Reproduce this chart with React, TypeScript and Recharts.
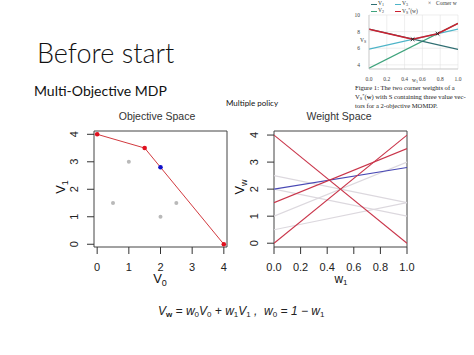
import React from "react";
import {
  ComposedChart,
  LineChart,
  Line,
  Scatter,
  XAxis,
  YAxis,
  ReferenceArea,
  CartesianGrid,
} from "recharts";

// objective space: value of each policy (V0, V1)
const frontV0 = [0, 1.5, 4];
const frontV1 = [4, 3.5, 0];
const pickedV0 = [2];
const pickedV1 = [2.8];
const otherV0 = [1, 0.5, 2, 2.5];
const otherV1 = [3, 1.5, 1, 1.5];
const objTicks = [0, 1, 2, 3, 4];

// weight space: w1 at both ends of the axis
const weightEnds = [0, 1];
const weightTicks = [0, 0.2, 0.4, 0.6, 0.8, 1];
const vwTicks = [0, 1, 2, 3, 4];

// small paper figure, top right
const figW = [0, 1];
const figV1 = [8.3, 5.85];
const figV2 = [3.6, 9.0];
const figV3 = [5.9, 8.3];
const optW = [0, 0.49, 0.77, 1];
const optV = [8.3, 7.08, 7.75, 9.0];
const cornerW = [0.49, 0.77];
const cornerV = [7.08, 7.75];
const figXTicks = [0, 0.2, 0.4, 0.6, 0.8, 1];
const figYTicks = [4, 6, 8, 10];

const pts = (xs: number[], ys: number[]) => xs.map((x, i) => ({ x, y: ys[i] }));

// V_w over w1 is a straight line from V0 (w1=0) to V1 (w1=1)
const wLines = (v0: number[], v1: number[]) =>
  v0.map((a, i) => weightEnds.map((w) => ({ x: w, y: w === 0 ? a : v1[i] })));

const R_FONT = "'Liberation Sans', Arial, sans-serif";
const SERIF = "'Liberation Serif', 'Times New Roman', serif";
const SLIDE = "Lato, 'Open Sans', sans-serif";

const XTick = (props: any) => {
  const { x, y, payload, digits } = props;
  const v = digits ? Number(payload.value).toFixed(digits) : payload.value;
  return (
    <text x={x} y={y} dy={17} textAnchor="middle" fontSize={11} fill="#222" fontFamily={R_FONT}>
      {v}
    </text>
  );
};

const YTickRot = (props: any) => {
  const { x, y, payload } = props;
  const bx = x - 9;
  return (
    <text
      x={bx}
      y={y}
      transform={`rotate(-90 ${bx} ${y})`}
      textAnchor="middle"
      fontSize={11}
      fill="#222"
      fontFamily={R_FONT}
    >
      {payload.value}
    </text>
  );
};

const FigXTick = (props: any) => {
  const { x, y, payload } = props;
  return (
    <text x={x} y={y} dy={4} textAnchor="middle" fontSize={5.5} fill="#444" fontFamily={SERIF}>
      {Number(payload.value).toFixed(1)}
    </text>
  );
};

const FigYTick = (props: any) => {
  const { x, y, payload } = props;
  return (
    <text x={x} y={y} dy={2} textAnchor="end" fontSize={5.5} fill="#444" fontFamily={SERIF}>
      {payload.value}
    </text>
  );
};

const dot = (r: number, fill: string) => (p: any) => <circle cx={p.cx} cy={p.cy} r={r} fill={fill} />;

const cross = (p: any) => (
  <path
    d={`M${p.cx - 1.8},${p.cy - 1.8}L${p.cx + 1.8},${p.cy + 1.8}M${p.cx - 1.8},${p.cy + 1.8}L${p.cx + 1.8},${p.cy - 1.8}`}
    stroke="#222"
    strokeWidth={1}
  />
);

const abs = (left: number, top: number, extra: React.CSSProperties = {}): React.CSSProperties => ({
  position: "absolute",
  left,
  top,
  whiteSpace: "nowrap",
  lineHeight: 1,
  ...extra,
});

const sub = (size: number): React.CSSProperties => ({ fontSize: size, fontStyle: "normal", verticalAlign: "-0.25em" });

const ObjectiveSpace = () => (
  <ComposedChart width={240} height={190} margin={{ top: 31, right: 13, bottom: 13, left: 54 }}>
    <XAxis
      type="number"
      dataKey="x"
      domain={[-0.1, 4.1]}
      ticks={objTicks}
      interval={0}
      allowDataOverflow
      axisLine={false}
      tickSize={7}
      tickMargin={0}
      tickLine={{ stroke: "#333" }}
      tick={<XTick />}
      height={30}
    />
    <YAxis
      type="number"
      dataKey="y"
      domain={[-0.1, 4.12]}
      ticks={objTicks}
      interval={0}
      allowDataOverflow
      axisLine={false}
      tickSize={7}
      tickMargin={0}
      tickLine={{ stroke: "#333" }}
      tick={<YTickRot />}
      width={40}
    />
    <ReferenceArea x1={-0.1} x2={4.1} y1={-0.1} y2={4.12} fill="none" stroke="#444" strokeWidth={1} />
    <Scatter data={pts(otherV0, otherV1)} shape={dot(2, "#b9b9b9")} isAnimationActive={false} />
    <Line data={pts(frontV0, frontV1)} dataKey="y" stroke="#d23a3f" strokeWidth={1} dot={false} isAnimationActive={false} />
    <Scatter data={pts(frontV0, frontV1)} shape={dot(2.3, "#e0101e")} isAnimationActive={false} />
    <Scatter data={pts(pickedV0, pickedV1)} shape={dot(2.3, "#1010c8")} isAnimationActive={false} />
  </ComposedChart>
);

const WeightSpace = () => (
  <LineChart width={190} height={190} margin={{ top: 31, right: 13, bottom: 13, left: 4 }}>
    <XAxis
      type="number"
      dataKey="x"
      domain={[0, 1]}
      ticks={weightTicks}
      interval={0}
      allowDataOverflow
      axisLine={false}
      tickSize={7}
      tickMargin={0}
      tickLine={{ stroke: "#333" }}
      tick={<XTick digits={1} />}
      height={30}
    />
    <YAxis
      type="number"
      dataKey="y"
      domain={[-0.14, 4.15]}
      ticks={vwTicks}
      interval={0}
      allowDataOverflow
      axisLine={false}
      tickSize={7}
      tickMargin={0}
      tickLine={{ stroke: "#333" }}
      tick={<YTickRot />}
      width={40}
    />
    <ReferenceArea x1={0} x2={1} y1={-0.14} y2={4.15} fill="none" stroke="#444" strokeWidth={1} />
    {wLines(otherV0, otherV1).map((d, i) => (
      <Line key={"g" + i} data={d} dataKey="y" stroke="#dcd8de" strokeWidth={1.1} dot={false} isAnimationActive={false} />
    ))}
    {wLines(pickedV0, pickedV1).map((d, i) => (
      <Line key={"b" + i} data={d} dataKey="y" stroke="#4848b4" strokeWidth={1.2} dot={false} isAnimationActive={false} />
    ))}
    {wLines(frontV0, frontV1).map((d, i) => (
      <Line key={"r" + i} data={d} dataKey="y" stroke="#c9354a" strokeWidth={1.1} dot={false} isAnimationActive={false} />
    ))}
  </LineChart>
);

const PaperFigure = () => (
  <ComposedChart width={134} height={90} margin={{ top: 15, right: 16, bottom: 9, left: 9 }}>
    <CartesianGrid stroke="#e2e2e2" strokeWidth={0.6} />
    <XAxis
      type="number"
      dataKey="x"
      domain={[0, 1]}
      ticks={figXTicks}
      interval={0}
      allowDataOverflow
      axisLine={{ stroke: "#bbb", strokeWidth: 0.6 }}
      tickLine={false}
      tickMargin={2}
      tick={<FigXTick />}
      height={12}
    />
    <YAxis
      type="number"
      dataKey="y"
      domain={[3.5, 10]}
      ticks={figYTicks}
      interval={0}
      allowDataOverflow
      axisLine={{ stroke: "#bbb", strokeWidth: 0.6 }}
      tickLine={false}
      tickMargin={3}
      tick={<FigYTick />}
      width={20}
    />
    <Line data={pts(figW, figV2)} dataKey="y" stroke="#3ea37c" strokeWidth={1.3} dot={false} isAnimationActive={false} />
    <Line data={pts(figW, figV3)} dataKey="y" stroke="#4db4c8" strokeWidth={1.3} dot={false} isAnimationActive={false} />
    <Line data={pts(figW, figV1)} dataKey="y" stroke="#2f6e72" strokeWidth={1.3} dot={false} isAnimationActive={false} />
    <Line data={pts(optW, optV)} dataKey="y" stroke="#cc2030" strokeWidth={1.5} dot={false} isAnimationActive={false} />
    <Scatter data={pts(cornerW, cornerV)} shape={cross} isAnimationActive={false} />
  </ComposedChart>
);

const legendDash = (left: number, top: number, color: string) => (
  <div style={abs(left, top, { width: 6, height: 1.4, background: color })} />
);

export default function App() {
  return (
    <div
      style={{
        position: "absolute",
        left: 0,
        top: 0,
        width: 474,
        height: 355,
        background: "#fff",
        overflow: "hidden",
        fontFamily: SLIDE,
        color: "#111",
      }}
    >
      <div style={abs(37, 39, { fontSize: 27, fontWeight: 300 })}>Before start</div>
      <div style={abs(34, 84, { fontSize: 14 })}>Multi-Objective MDP</div>
      <div style={abs(226, 99, { fontSize: 8 })}>Multiple policy</div>

      <div style={abs(157, 116, { fontSize: 10.5, fontFamily: R_FONT, color: "#333", transform: "translate(-50%,-50%)" })}>
        Objective Space
      </div>
      <div style={abs(339, 116, { fontSize: 10.5, fontFamily: R_FONT, color: "#333", transform: "translate(-50%,-50%)" })}>
        Weight Space
      </div>

      <div style={abs(0, 100)}>
        <ObjectiveSpace />
      </div>
      <div style={abs(230, 100)}>
        <WeightSpace />
      </div>

      <div style={abs(62, 187, { fontSize: 13, fontFamily: R_FONT, transform: "translate(-50%,-50%) rotate(-90deg)" })}>
        V<span style={sub(9)}>1</span>
      </div>
      <div style={abs(160, 280, { fontSize: 13, fontFamily: R_FONT, transform: "translate(-50%,-50%)" })}>
        V<span style={sub(9)}>0</span>
      </div>
      <div style={abs(241, 187, { fontSize: 13, fontFamily: R_FONT, transform: "translate(-50%,-50%) rotate(-90deg)" })}>
        V<span style={sub(9)}>w</span>
      </div>
      <div style={abs(341, 280, { fontSize: 12, fontFamily: R_FONT, transform: "translate(-50%,-50%)" })}>
        w<span style={sub(8)}>1</span>
      </div>

      <div style={abs(158, 305, { fontSize: 12, fontFamily: R_FONT, fontStyle: "italic", color: "#222" })}>
        V<span style={{ ...sub(8), fontWeight: 700 }}>w</span> = w<span style={sub(8)}>0</span>V<span style={sub(8)}>0</span> + w
        <span style={sub(8)}>1</span>V<span style={sub(8)}>1</span> ,&nbsp; w<span style={sub(8)}>0</span> = 1 − w
        <span style={sub(8)}>1</span>
      </div>

      <div style={abs(340, 0)}>
        <PaperFigure />
      </div>
      <div style={{ fontFamily: SERIF, fontSize: 5.5, color: "#333" }}>
        {legendDash(371, 4, "#2f6e72")}
        <div style={abs(378, 1)}>V<span style={sub(4)}>1</span></div>
        {legendDash(395, 4, "#4db4c8")}
        <div style={abs(402, 1)}>V<span style={sub(4)}>3</span></div>
        <div style={abs(428, 1)}>×</div>
        <div style={abs(436, 1)}>Corner w</div>
        {legendDash(371, 10.5, "#3ea37c")}
        <div style={abs(378, 7.5)}>V<span style={sub(4)}>2</span></div>
        {legendDash(395, 10.5, "#cc2030")}
        <div style={abs(402, 7.5)}>
          V<span style={sub(4)}>S</span>
          <span style={{ fontSize: 4, verticalAlign: "0.5em" }}>*</span>(w)
        </div>
        <div style={abs(360, 38)}>V<span style={sub(4)}>S</span></div>
        <div style={abs(412, 78)}>w<span style={sub(4)}>1</span></div>
      </div>
      <div style={{ fontFamily: SERIF, fontSize: 6.6, color: "#222" }}>
        <div style={abs(355, 85)}>Figure 1: The two corner weights of a</div>
        <div style={abs(355, 94)}>
          V<span style={sub(4.5)}>S</span>
          <span style={{ fontSize: 4.5, verticalAlign: "0.5em" }}>*</span>(<b>w</b>) with S containing three value vec-
        </div>
        <div style={abs(355, 103)}>tors for a 2-objective MOMDP.</div>
      </div>
    </div>
  );
}
